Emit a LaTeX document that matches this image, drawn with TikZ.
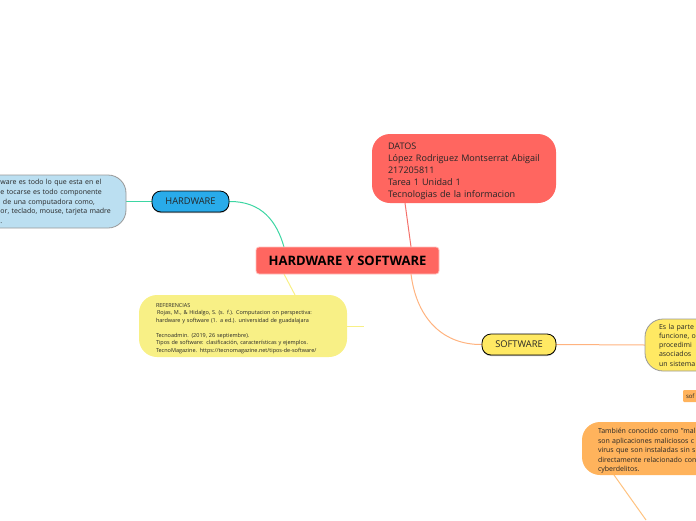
\documentclass[tikz,border=0pt]{standalone}
\usepackage{fontspec}
\setmainfont{Open Sans}
\usetikzlibrary{shadows}
\pgfdeclarelayer{bg}
\pgfsetlayers{bg,main}
\definecolor{redfill}{HTML}{FF6660}
\definecolor{bluefill}{HTML}{29ABEA}
\definecolor{paleblue}{HTML}{BBDFF1}
\definecolor{yellowfill}{HTML}{FFE963}
\definecolor{paleyellow}{HTML}{F8F086}
\definecolor{orangefill}{HTML}{FFB35C}
\definecolor{greenline}{HTML}{3DD6A3}
\definecolor{orangeline}{HTML}{FFB37F}
\definecolor{redline}{HTML}{F4716B}
\definecolor{yellowline}{HTML}{F8F086}
\definecolor{orangeleaf}{HTML}{FFC27F}
\tikzset{
    every node/.style={inner sep=0pt, outer sep=0pt, text=black!85},
    branch/.style={draw=black, line width=.8pt, rounded corners=9pt, minimum height=21pt,
    	font=\fontsize{9.3}{11}\selectfont,
    	drop shadow={shadow xshift=0pt, shadow yshift=-1pt, opacity=.3, fill=black}},
    leaf/.style={rounded corners=18pt, align=left, text width=#1, minimum width=#1},
    link/.style={line width=1pt}
}

\begin{document}
\begin{tikzpicture}[x=1pt, y=-1pt]
  \path[use as bounding box, clip] (0,0) rectangle (696,520);

  \node (title) [draw=redfill!40, fill=redfill, line width=.8pt, rounded corners=3pt, minimum width=183pt, minimum height=27pt, text=black,
  	font=\fontsize{13}{15}\selectfont\bfseries] at (347.5,260.5) {HARDWARE Y SOFTWARE};

  \node (datos) [leaf=184pt, fill=redfill, minimum height=69pt, font=\fontsize{9.05}{12}\selectfont] at (464,168.5)
  	{\rule{0pt}{13pt}\hspace*{16pt}DATOS\\\hspace*{16pt}López Rodriguez Montserrat Abigail\\\hspace*{16pt}217205811\\\hspace*{16pt}Tarea 1 Unidad 1\\\hspace*{16pt}Tecnologias de la informacion};

  \node (hardware) [branch, fill=bluefill, minimum width=77pt] at (190.5,201.5) {HARDWARE};
  \node (hwtext) [leaf=186pt, draw=black!40, fill=paleblue, line width=.8pt, minimum height=53pt, font=\fontsize{7}{9.7}\selectfont] at (33,201.5)
  	{\hspace*{60.5pt}ware es todo lo que esta en el\\\hspace*{60.5pt}e tocarse es todo componente\\\hspace*{63pt}de una computadora como,\\\hspace*{60.5pt}or, teclado, mouse, tarjeta madre\\\hspace*{60.5pt}.};

  \node (refs) [leaf=208pt, fill=paleyellow, minimum height=62pt, font=\fontsize{5.5}{7.5}\selectfont] at (243,326)
  	{\rule{0pt}{9pt}\hspace*{17pt}REFERENCIAS\\\hspace*{18pt}Rojas, M., \& Hidalgo, S. (s. f.). Computacion on perspectiva:\\\hspace*{17pt}hardware y software (1. a ed.). universidad de guadalajara\\[7.5pt]\hspace*{17pt}Tecnoadmin. (2019, 26 septiembre).\\\hspace*{17pt}Tipos de software: clasificación, características y ejemplos.\\\hspace*{17pt}TecnoMagazine. https://tecnomagazine.net/tipos-de-software/};
  \coordinate (refsend) at (364,326);

  \node (software) [branch, fill=yellowfill, minimum width=74pt] at (519,344.5) {SOFTWARE};
  \node (swtext) [leaf=75pt, draw=black!40, fill=yellowfill, line width=.8pt, minimum height=52pt, font=\fontsize{7}{9.3}\selectfont] at (682.5,345)
  	{\hspace*{14pt}Es la parte\\\hspace*{14pt}funcione, o\\\hspace*{14pt}procedimi\\\hspace*{14pt}asociados\\\hspace*{14pt}un sistema};

  \node (softag) [fill=orangefill, rounded corners=1pt, minimum width=24pt, minimum height=12pt, text width=24pt, align=left, font=\fontsize{6}{8}\selectfont] at (695,396)
  	{\hspace*{3pt}sof};

  \node (malware) [leaf=138pt, fill=orangefill, minimum height=53pt, font=\fontsize{7}{9.6}\selectfont] at (651,448.5)
  	{\rule{0pt}{10pt}\hspace*{16pt}También conocido como "mali\\\hspace*{16pt}son aplicaciones maliciosos c\\\hspace*{16pt}virus que son instaladas sin s\\\hspace*{16pt}directamente relacionado con\\\hspace*{16pt}cyberdelitos.};
  \coordinate (malwareend) at (646,520);

  \begin{pgfonlayer}{bg}
	  \draw[link, greenline] (hardware.east) .. controls (262,201) and (277,222) .. (title.168);
	  \draw[link, greenline] (hwtext.east) -- (hardware.west);
	  \draw[link, yellowline] (title.192) -- (refs.north west -| 295,295);
	  \draw[link, yellowline] (refs.east) -- (refsend);
	  \draw[link, redline] (title.12) -- (datos.south -| 405,203);
	  \draw[link, orangeline] (title.-12) .. controls (416,315) and (440,345) .. (software.west);
	  \draw[link, orangeline] (software.east) -- (swtext.west);
	  \draw[link, orangeleaf] (malware.south -| 614,475) -- (malwareend);
  \end{pgfonlayer}
\end{tikzpicture}
\end{document}
